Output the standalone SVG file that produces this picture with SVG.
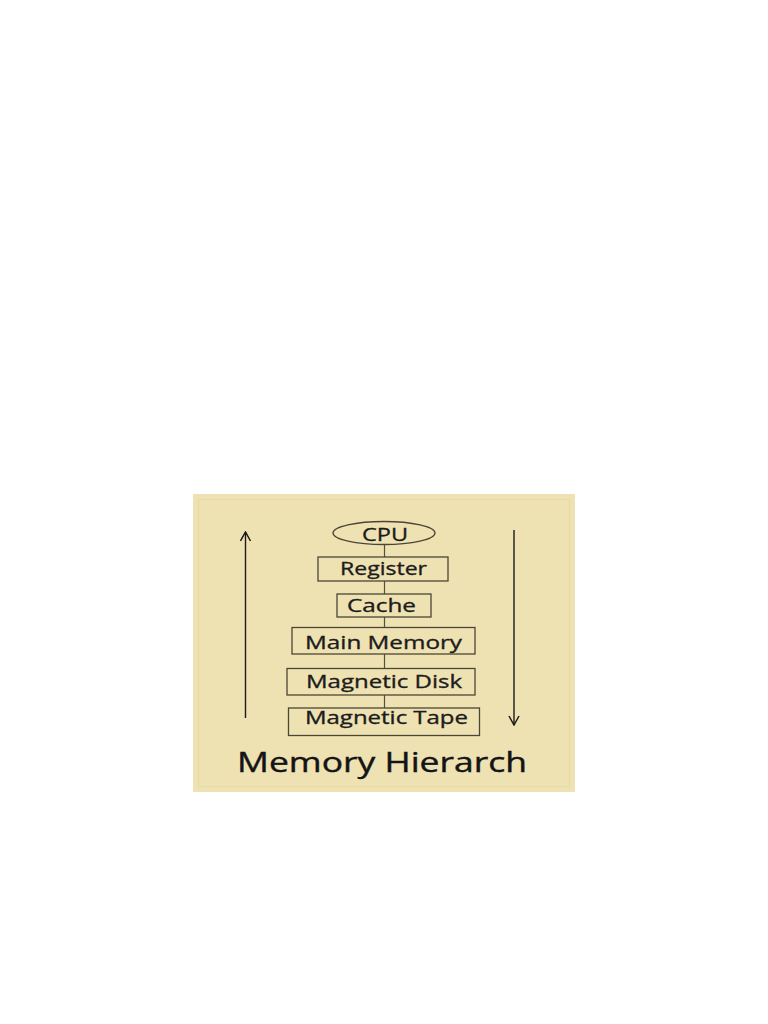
<svg xmlns="http://www.w3.org/2000/svg" width="768" height="1024" viewBox="0 0 768 1024">
<style>
.box{fill:none;stroke:#4a4636;stroke-width:1.3}
.lbl{font-family:"Open Sans","Noto Sans",sans-serif;font-size:19px;fill:#1c1c1c;stroke:#1c1c1c;stroke-width:0.35;text-anchor:start}
.conn{stroke:#55513f;stroke-width:1.2;fill:none}
.arr{stroke:#1a1a1a;stroke-width:1.4;fill:none}
</style>
<defs>
<marker id="chev" viewBox="0 0 12 12" refX="11" refY="6" markerWidth="12" markerHeight="12" markerUnits="userSpaceOnUse" orient="auto">
<path d="M2,1 L11,6 L2,11" fill="none" stroke="#1a1a1a" stroke-width="1.5"/>
</marker>
</defs>
<rect x="0" y="0" width="768" height="1024" fill="#ffffff"/>
<rect x="193" y="494" width="382" height="298" fill="#efe2b2"/>
<rect x="198.5" y="499.5" width="371" height="287" fill="none" stroke="#e8daa8" stroke-width="1"/>
<g id="connectors">
<line class="conn" x1="384.5" y1="544.5" x2="384.5" y2="557"/>
<line class="conn" x1="384.5" y1="581" x2="384.5" y2="594"/>
<line class="conn" x1="384.5" y1="617" x2="384.5" y2="627.5"/>
<line class="conn" x1="384.5" y1="654" x2="384.5" y2="668.5"/>
<line class="conn" x1="384.5" y1="695" x2="384.5" y2="708"/>
<line class="arr" x1="245.5" y1="718" x2="245.5" y2="532" marker-end="url(#chev)"/>
<line class="arr" x1="514" y1="530" x2="514" y2="725" marker-end="url(#chev)"/>
</g>
<g id="cpu">
<ellipse class="box" cx="384" cy="533" rx="51" ry="11.5"/>
<text class="lbl" x="362" y="540.5" textLength="46" lengthAdjust="spacingAndGlyphs">CPU</text>
</g>
<g id="register">
<rect class="box" x="318" y="557" width="130" height="24"/>
<text class="lbl" x="340" y="575" textLength="87" lengthAdjust="spacingAndGlyphs">Register</text>
</g>
<g id="cache">
<rect class="box" x="337" y="594" width="94" height="23"/>
<text class="lbl" x="347" y="611.5" textLength="69" lengthAdjust="spacingAndGlyphs">Cache</text>
</g>
<g id="main-memory">
<rect class="box" x="292" y="627.5" width="183" height="26.5"/>
<text class="lbl" x="305" y="648.5" textLength="157" lengthAdjust="spacingAndGlyphs">Main Memory</text>
</g>
<g id="magnetic-disk">
<rect class="box" x="287" y="668.5" width="188" height="26.5"/>
<text class="lbl" x="306" y="687.5" textLength="156" lengthAdjust="spacingAndGlyphs">Magnetic Disk</text>
</g>
<g id="magnetic-tape">
<rect class="box" x="288.5" y="708" width="191" height="27.5"/>
<text class="lbl" x="305" y="724" textLength="163" lengthAdjust="spacingAndGlyphs">Magnetic Tape</text>
</g>
<g id="title">
<text x="237" y="772" font-family="'Open Sans','Noto Sans',sans-serif" font-size="27" fill="#141414" stroke="#141414" stroke-width="0.4" textLength="290" lengthAdjust="spacingAndGlyphs">Memory Hierarch</text>
</g>
</svg>
